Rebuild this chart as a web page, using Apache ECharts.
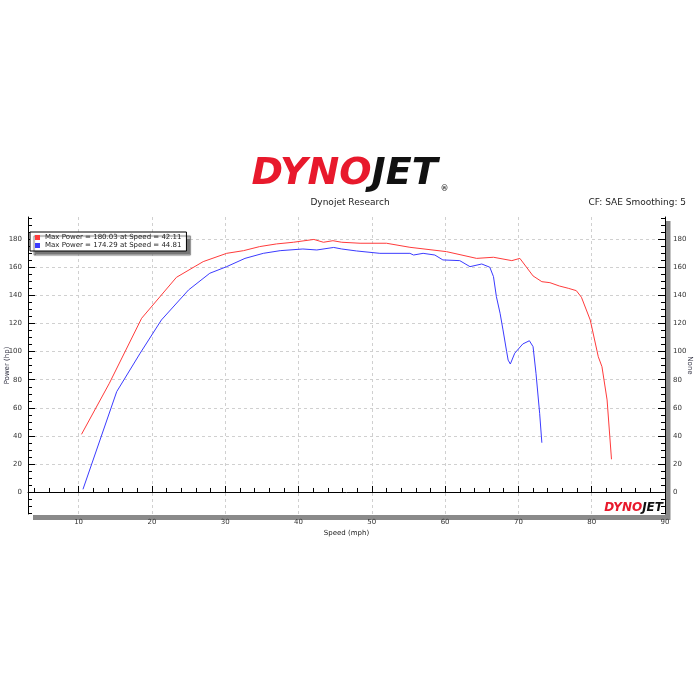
<!DOCTYPE html>
<html>
<head>
<meta charset="utf-8">
<script src="https://cdn.jsdelivr.net/npm/echarts@6/dist/echarts.min.js"></script>
<style>html,body{margin:0;padding:0;background:#fff;}#c{width:700px;height:700px;}</style>
</head>
<body>
<div id="c"></div>
<script>
// ---- data ----
var seriesNames = ['Max Power = 180.03 at Speed = 42.11', 'Max Power = 174.29 at Speed = 44.81'];
var redSpeed = [10.4, 14.2, 18.6, 23.35, 27.0, 30.2, 32.5, 34.7, 37.0, 39.3, 42.1, 43.4, 44.7, 45.9, 48.4, 52.0, 55.2, 60.2, 64.3, 66.6, 69.1, 70.2, 72.0, 73.2, 74.3, 75.6, 76.8, 77.9, 78.6, 79.8, 80.9, 81.4, 82.1, 82.7];
var redPower = [41.1, 77.5, 123.8, 153.0, 164.2, 170.1, 172.0, 174.9, 176.8, 178.0, 180.0, 178.0, 179.1, 178.0, 177.3, 177.3, 174.4, 171.3, 166.5, 167.3, 164.9, 166.5, 154.0, 149.9, 149.2, 146.8, 145.2, 143.5, 138.8, 122.6, 96.4, 89.3, 65.6, 23.3];
var blueSpeed = [10.6, 15.2, 18.4, 21.3, 25.0, 27.9, 30.2, 32.7, 35.2, 37.5, 40.6, 42.5, 44.8, 45.9, 47.9, 51.1, 55.2, 55.7, 57.0, 58.6, 59.7, 62.0, 63.4, 65.0, 66.1, 66.6, 67.0, 67.5, 67.9, 68.4, 68.6, 68.9, 69.5, 70.6, 71.5, 72.0, 72.4, 72.9, 73.2];
var bluePower = [1.9, 71.5, 98.9, 122.6, 144.0, 155.9, 160.6, 166.5, 170.1, 172.0, 173.2, 172.5, 174.3, 173.2, 171.8, 170.1, 170.1, 168.9, 170.1, 168.9, 165.4, 164.9, 160.6, 162.5, 160.2, 153.5, 139.2, 127.4, 115.5, 100.0, 94.0, 91.2, 98.9, 105.5, 107.8, 103.6, 84.6, 56.1, 35.1];
var xMajor = [10, 20, 30, 40, 50, 60, 70, 80, 90];
var xMinor = [4, 6, 8, 12, 14, 16, 18, 22, 24, 26, 28, 32, 34, 36, 38, 42, 44, 46, 48, 52, 54, 56, 58, 62, 64, 66, 68, 72, 74, 76, 78, 82, 84, 86, 88];
var yMajor = [0, 20, 40, 60, 80, 100, 120, 140, 160, 180];
var yMinor = [-15, -10, -5, 5, 10, 15, 25, 30, 35, 45, 50, 55, 65, 70, 75, 85, 90, 95, 105, 110, 115, 125, 130, 135, 145, 150, 155, 165, 170, 175, 185, 190, 195];

function pairs(xs, ys) { return xs.map(function (x, i) { return [x, ys[i]]; }); }

var X_MIN = 3.1, X_MAX = 90, Y_MIN = -15.7, Y_MAX = 196;
var FONT = 'DejaVu Sans';
var lblStyle = { fontSize: 7, color: '#333', fontFamily: FONT };

var chart = echarts.init(document.getElementById('c'), null, { renderer: 'canvas' });

function minorX() {
  return { type: 'value', min: X_MIN, max: X_MAX, position: 'bottom', gridIndex: 0,
    axisLine: { show: false }, axisLabel: { show: false }, splitLine: { show: false },
    axisTick: { show: true, inside: true, length: 4, customValues: xMinor, lineStyle: { color: '#000' } } };
}
function minorY(pos) {
  return { type: 'value', min: Y_MIN, max: Y_MAX, position: pos, gridIndex: 0,
    axisLine: { show: false }, axisLabel: { show: false }, splitLine: { show: false },
    axisTick: { show: true, inside: true, length: 4, customValues: yMinor, lineStyle: { color: '#000' } } };
}

chart.setOption({
  animation: false,
  backgroundColor: '#fff',
  title: [
    { text: '{a|DYNO}{b|JET}{c|®}', left: 'center', top: 150,
      textStyle: { rich: {
        a: { fontSize: 38, fontWeight: 900, fontStyle: 'italic', color: '#e8192c', fontFamily: FONT },
        b: { fontSize: 38, fontWeight: 900, fontStyle: 'italic', color: '#111', fontFamily: FONT },
        c: { fontSize: 8, color: '#333', fontFamily: FONT, padding: [0, 0, 0, 3], verticalAlign: 'bottom' }
      } } },
    { text: 'Dynojet Research', left: 'center', top: 193, textStyle: { fontSize: 9, fontWeight: 'normal', color: '#222', fontFamily: FONT } },
    { text: 'CF: SAE Smoothing: 5', right: 9, top: 193, textStyle: { fontSize: 9, fontWeight: 'normal', color: '#222', fontFamily: FONT } }
  ],
  legend: {
    left: 30, top: 232, orient: 'vertical', itemGap: 1, padding: [2, 5, 2, 5],
    itemWidth: 5, itemHeight: 5, icon: 'rect',
    backgroundColor: '#fff', borderColor: '#000', borderWidth: 1,
    shadowColor: '#777', shadowOffsetX: 4, shadowOffsetY: 4, shadowBlur: 1,
    textStyle: { fontSize: 7, color: '#222', fontFamily: FONT, padding: [0, 0, 0, 0] },
    data: seriesNames
  },
  grid: { left: 28, right: 35, top: 217, bottom: 186, outerBoundsMode: 'none', containLabel: false },
  xAxis: [
    { type: 'value', min: X_MIN, max: X_MAX, position: 'bottom',
      name: 'Speed (mph)', nameLocation: 'middle', nameGap: 16, nameMoveOverlap: false,
      nameTextStyle: { fontSize: 7, color: '#222', fontFamily: FONT },
      axisLine: { show: true, lineStyle: { color: '#000', width: 1 } },
      axisTick: { show: true, inside: true, length: 6, customValues: xMajor, lineStyle: { color: '#000' } },
      axisLabel: Object.assign({ customValues: xMajor, margin: 5 }, lblStyle),
      splitLine: { show: true, lineStyle: { color: '#d0d0d0', type: [3, 3], width: 1 } } },
    minorX()
  ],
  yAxis: [
    { type: 'value', min: Y_MIN, max: Y_MAX, position: 'left',
      name: 'Power (hp)', nameLocation: 'middle', nameGap: 17, nameMoveOverlap: false,
      nameTextStyle: { fontSize: 7, color: '#334', fontFamily: FONT },
      axisLine: { show: true, lineStyle: { color: '#000', width: 1 } },
      axisTick: { show: true, inside: true, length: 7, customValues: yMajor, lineStyle: { color: '#000' } },
      axisLabel: Object.assign({ customValues: yMajor, margin: 6 }, lblStyle),
      splitLine: { show: true, lineStyle: { color: '#d0d0d0', type: [3, 3], width: 1 } } },
    { type: 'value', min: Y_MIN, max: Y_MAX, position: 'right',
      name: 'None', nameLocation: 'middle', nameGap: 21, nameRotate: -90, nameMoveOverlap: false,
      nameTextStyle: { fontSize: 7, color: '#334', fontFamily: FONT },
      axisLine: { show: true, lineStyle: { color: '#000', width: 1 } },
      axisTick: { show: true, inside: true, length: 7, customValues: yMajor, lineStyle: { color: '#000' } },
      axisLabel: Object.assign({ customValues: yMajor, margin: 8 }, lblStyle),
      splitLine: { show: false } },
    minorY('left'),
    minorY('right')
  ],
  graphic: [
    { type: 'rect', shape: { x: 33, y: 515, width: 637, height: 5 }, style: { fill: '#8a8a8a' }, z: 0 },
    { type: 'rect', shape: { x: 665.5, y: 221, width: 5, height: 299 }, style: { fill: '#8a8a8a' }, z: 0 },
    { type: 'text', right: 37, top: 502, z: 10,
      style: { rich: {
        a: { fontSize: 12, fontWeight: 900, fontStyle: 'italic', fill: '#e8192c', fontFamily: FONT },
        b: { fontSize: 12, fontWeight: 900, fontStyle: 'italic', fill: '#111', fontFamily: FONT }
      }, text: '{a|DYNO}{b|JET}' } }
  ],
  series: [
    { name: seriesNames[0], type: 'line', xAxisIndex: 0, yAxisIndex: 0, showSymbol: false, symbol: 'none',
      color: '#ff3b3b', lineStyle: { width: 1, color: '#ff3b3b' }, data: pairs(redSpeed, redPower) },
    { name: seriesNames[1], type: 'line', xAxisIndex: 0, yAxisIndex: 0, showSymbol: false, symbol: 'none',
      color: '#3b3bff', lineStyle: { width: 1, color: '#3b3bff' }, data: pairs(blueSpeed, bluePower) }
  ]
});
</script>
</body>
</html>
